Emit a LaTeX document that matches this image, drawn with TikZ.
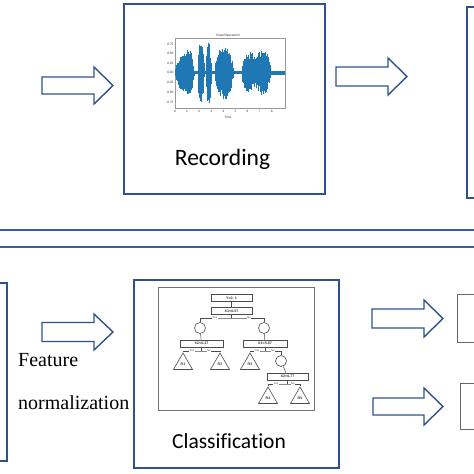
\documentclass[tikz,border=0pt]{standalone}
\usepackage{fontspec}
\setmainfont{Liberation Serif}
\newfontfamily\calib[Ligatures=NoCommon]{Carlito}
\newfontfamily\plotfont{Liberation Sans}
\usetikzlibrary{shapes.geometric}
\definecolor{boxblue}{HTML}{2F528F}
\definecolor{sepblue}{HTML}{3B5EA6}
\definecolor{wavecol}{HTML}{1F77B4}
\newcommand{\barrow}[6]{%
  \draw[blockarrow] (#1,#4-#5) -- (#2,#4-#5) -- (#2,#4-#6) -- (#3,#4) -- (#2,#4+#6) -- (#2,#4+#5) -- (#1,#4+#5) -- cycle;}
\begin{document}
\begin{tikzpicture}[x=1pt,y=-1pt,
  bluebox/.style={draw=boxblue, line width=1.8pt},
  greybox/.style={draw=black!60, line width=1.2pt},
  blockarrow/.style={draw=boxblue, line width=1.4pt, fill=white, line join=miter},
  sepline/.style={draw=sepblue, line width=1.8pt},
  bigsans/.style={font=\calib\fontsize{23.5}{26}\selectfont, inner sep=0pt},
  serif/.style={font=\fontsize{20}{22}\selectfont, inner sep=0pt, anchor=base west},
  tick/.style={font=\plotfont\fontsize{3.2}{3.6}\selectfont, inner sep=0.3pt, text=black!80},
  wave/.style={draw=wavecol, line width=0.5pt},
  tline/.style={draw=black!70, line width=0.5pt},
  tbox/.style={draw=black!70, line width=0.6pt, minimum height=7pt, inner sep=0pt, font=\plotfont\bfseries\fontsize{3.6}{4}\selectfont, text=black!80},
  tcirc/.style={draw=black!70, line width=0.6pt, circle, minimum size=11pt, inner sep=0pt},
  ttri/.style={draw=black!70, line width=0.6pt, regular polygon, regular polygon sides=3, minimum size=22pt, inner sep=0pt, font=\plotfont\bfseries\fontsize{3.6}{4}\selectfont, text=black!80},
  yn/.style={fill=white, inner sep=0.3pt, font=\plotfont\fontsize{2.8}{3}\selectfont, text=black!70}
]
\useasboundingbox (0,0) rectangle (474,474);
\clip (0,0) rectangle (474,474);
\fill[white] (0,0) rectangle (474,474);

% ---------- top row ----------
\node[bluebox, anchor=north west, minimum width=201pt, minimum height=190pt, inner sep=0pt] (rec) at (123,3) {};
\node[bigsans, anchor=base] (rectext) at (222.5,165) {Recording};
\node[bluebox, anchor=north west, minimum width=40pt, minimum height=191pt, inner sep=0pt] (topright) at (466,6) {};

\barrow{42}{94}{113}{85.5}{8.5}{18.5}
\barrow{336}{388}{407}{76.5}{9.5}{18.5}

% waveform plot
\draw[black!40, line width=0.3pt] (175,38) rectangle (285,108);
\node[tick] (ptitle) at (228,35) {Vowel Waveform};
\foreach \v/\yy in {0.75/44,0.50/53.5,0.25/63,0.00/72.7,{-0.25}/82,{-0.50}/92,{-0.75}/102}{
  \node[tick, anchor=east] at (174,\yy) {\v};
}
\foreach \k in {0,...,8}{
  \pgfmathsetmacro\xx{175+12.1*\k}
  \node[tick, anchor=north] at (\xx,109.5) {\k};
}
\node[tick] (ptime) at (228,117) {Time};
\fill[wavecol] (175,71.2) rectangle (285,74.2);
\fill[wavecol] (270,70.6) rectangle (285,74.8);
\pgfmathsetseed{17}
\foreach \s/\e/\p in {175/194/0.5, 184/193/0.62, 197.5/204/0.8, 205.5/211.5/0.85, 214.5/233/0.72, 216/226/0.5, 241.5/258/0.55, 254/270.5/0.6, 262/268/0.55}{
  \pgfmathtruncatemacro\n{(\e-\s)/0.25}
  \foreach \i in {0,...,\n}{
    \pgfmathsetmacro\xx{\s+\i*0.25}
    \pgfmathsetmacro\env{\p*sqrt(abs(sin(180*\i/\n)))}
    \pgfmathsetmacro\up{\env*(0.35+0.65*rnd)*38.5}
    \pgfmathsetmacro\dn{\env*(0.35+0.65*rnd)*38.5}
    \draw[wave] (\xx,72.7-\up) -- (\xx,72.7+\dn);
  }
}

% separator lines
\draw[sepline] (-5,230) -- (480,230);
\draw[sepline] (-5,247) -- (480,247);

% ---------- bottom row ----------
\node[bluebox, anchor=north east, minimum width=40pt, minimum height=178pt, inner sep=0pt] (botleft) at (8,282) {};
\barrow{42}{94}{113}{332}{9.5}{18}
\node[serif] (feat) at (18,366) {Feature};
\node[serif] (norm) at (18,409) {normalization};

\node[bluebox, anchor=north west, minimum width=205pt, minimum height=188pt, inner sep=0pt] (cls) at (133,279) {};
\node[bigsans, anchor=base, font=\calib\fontsize{21.5}{24}\selectfont] (clstext) at (229,448) {Classification};

\barrow{372}{424}{443}{318.5}{9.5}{18.5}
\barrow{373}{424}{443}{406.5}{8.5}{18.5}
\node[greybox, anchor=north west, minimum width=40pt, minimum height=48pt, inner sep=0pt] (out1) at (457,294) {};
\node[greybox, anchor=north west, minimum width=40pt, minimum height=46pt, inner sep=0pt] (out2) at (460,383) {};

% decision tree picture
\draw[black!55, line width=1pt] (158,287) rectangle (314,410);
\node[tbox, minimum width=41pt] (ty) at (231.5,298) {Y=0. 1};
\node[tbox, minimum width=41pt] (tx1) at (231.5,311) {X1<0.57};
\draw[tline] (ty) -- (tx1);
\node[tcirc] (c1) at (200,328) {};
\node[tcirc] (c2) at (264,328) {};
\draw[tline] (tx1.south) -- (231.5,318);
\draw[tline] (c1.north) |- (231.5,318) -| (c2.north);
\node[yn] at (215,318) {Yes};
\node[yn] at (249,318) {No};

\node[tbox, minimum width=43pt] (tx2a) at (201.5,343.5) {X2<0.37};
\node[tbox, minimum width=44pt] (tx1b) at (265,343.5) {X1<5.87};
\draw[tline] (c1) -- (tx2a);
\draw[tline] (c2) -- (tx1b);

\node[ttri] (r1) at (183,364) {R1};
\node[ttri] (r2) at (220,364) {R2};
\draw[tline] (tx2a.south) -- (201.5,351);
\draw[tline] (r1.corner 1) |- (201.5,351) -| (r2.corner 1);
\node[yn] at (192,351) {Yes};
\node[yn] at (209,351) {No};

\node[ttri] (r3) at (250,364) {R3};
\node[tcirc] (c3) at (281,361) {};
\draw[tline] (tx1b.south) -- (265,351);
\draw[tline] (r3.corner 1) |- (265,351) -| (c3.north);
\node[yn] at (257,351) {Yes};
\node[yn] at (273,351) {No};

\node[tbox, minimum width=41pt] (tx2b) at (287.5,376.5) {X2<0.77};
\draw[tline] (c3) -- (tx2b);
\node[ttri] (r4) at (268,398) {R4};
\node[ttri] (r5) at (300,398) {R5};
\draw[tline] (tx2b.south) -- (287.5,384);
\draw[tline] (r4.corner 1) |- (287.5,384) -| (r5.corner 1);
\node[yn] at (276,384) {Yes};
\node[yn] at (293,384) {No};
\end{tikzpicture}
\end{document}
